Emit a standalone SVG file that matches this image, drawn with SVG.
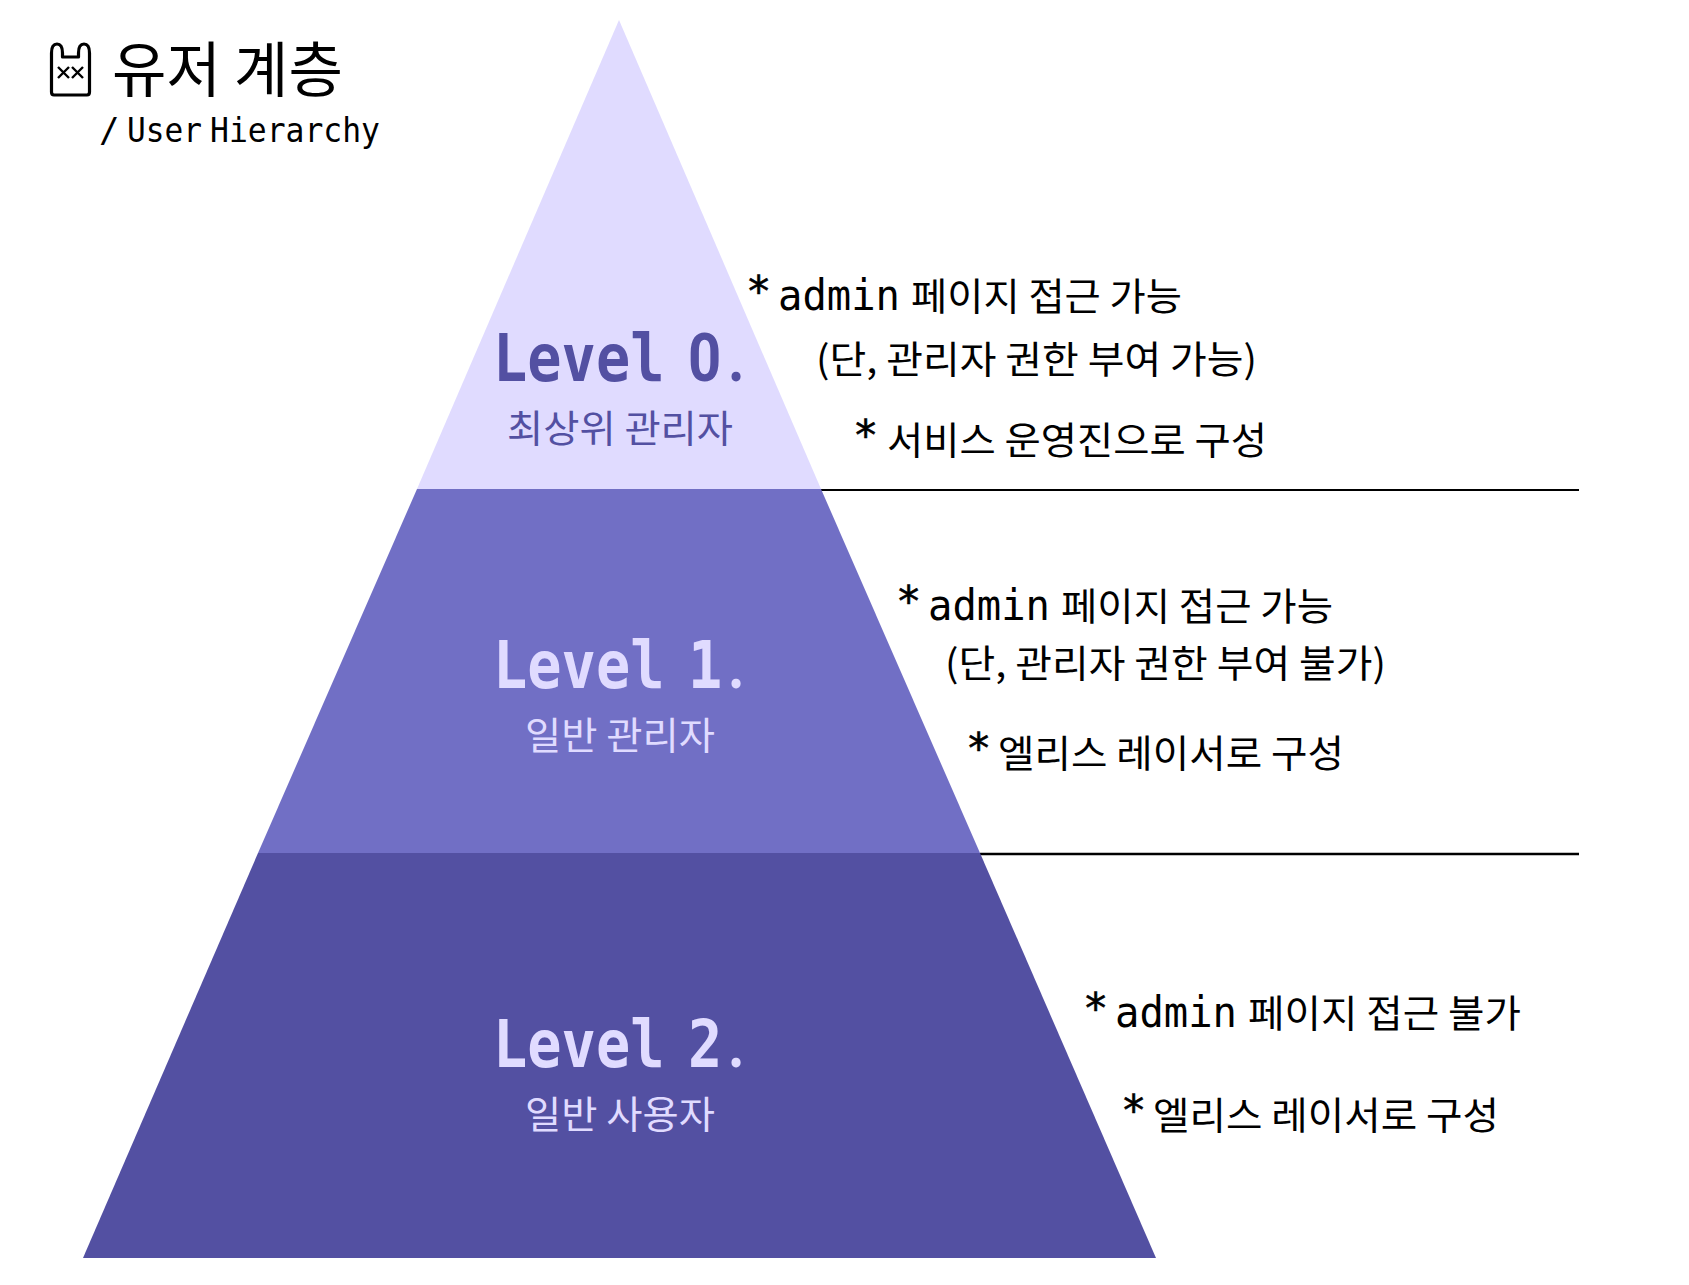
<svg xmlns="http://www.w3.org/2000/svg" width="1689" height="1285" viewBox="0 0 1689 1285">
<style>
text{font-family:"DejaVu Sans Mono","Noto Sans CJK KR",monospace}
.k{font-family:"Noto Sans CJK KR","Noto Sans",sans-serif}
.note{font-size:38px;fill:#000}
.ad{font-size:43px}
.st{font-size:42px;stroke:#000;stroke-width:.6px}
.lv{font-size:57px;font-weight:700}
.dg{font-family:"Roboto",sans-serif}
.sub{font-size:38px;text-anchor:middle;font-family:"Noto Sans CJK KR",sans-serif}
</style>
<rect width="1689" height="1285" fill="#fff"/>
<g id="title">
<path d="M51.500 53Q51.500 44 57 44Q62.500 44 62.500 53V57H78.500V53Q78.500 44 84 44Q89.500 44 89.500 53V92Q89.500 95 87 95H54Q51.500 95 51.500 92Z" fill="none" stroke="#000" stroke-width="3.200" stroke-linejoin="round"/>
<path d="M58 67L69 78M69 67L58 78M72 67L83 78M83 67L72 78" stroke="#000" stroke-width="2.400" fill="none"/>
<text class="k" x="112" y="92" font-size="60" textLength="231" lengthAdjust="spacingAndGlyphs">유저 계층</text>
<text x="99" y="142" font-size="34"><tspan>/</tspan><tspan x="127" textLength="75" lengthAdjust="spacingAndGlyphs">User</tspan><tspan x="210" textLength="170" lengthAdjust="spacingAndGlyphs">Hierarchy</tspan></text>
</g>
<g id="connectors">
<line x1="821" y1="490" x2="1579" y2="490" stroke="#000" stroke-width="2"/>
<line x1="980" y1="854" x2="1579" y2="854" stroke="#000" stroke-width="2.500"/>
</g>
<g id="level0">
<path d="M619 20L821 489H417Z" fill="#e0dbff"/>
<text class="lv" transform="translate(493 381) scale(1 1.158)" fill="#5350a2"><tspan x="0">Level</tspan><tspan class="dg" x="195" font-size="58">0</tspan><tspan class="dg" x="235">.</tspan></text>
<text class="sub" x="620" y="442" fill="#5350a2" textLength="226" lengthAdjust="spacingAndGlyphs">최상위 관리자</text>
<text class="note" y="310"><tspan class="st" x="746" y="306">*</tspan><tspan class="ad" x="778" y="310" textLength="122" lengthAdjust="spacingAndGlyphs">admin</tspan><tspan class="k" x="911" textLength="271" lengthAdjust="spacingAndGlyphs">페이지 접근 가능</tspan></text>
<text class="note k" x="816" y="373" textLength="441" lengthAdjust="spacingAndGlyphs">(단, 관리자 권한 부여 가능)</text>
<text class="note" y="454"><tspan class="st" x="853" y="450">*</tspan><tspan class="k" x="887" y="454" textLength="380" lengthAdjust="spacingAndGlyphs">서비스 운영진으로 구성</tspan></text>
</g>
<g id="level1">
<path d="M417 489H821L980 853H258Z" fill="#716fc5"/>
<text class="lv" transform="translate(493 688) scale(1 1.158)" fill="#e0dbff"><tspan x="0">Level</tspan><tspan x="195">1</tspan><tspan class="dg" x="235">.</tspan></text>
<text class="sub" x="620" y="749" fill="#e0dbff" textLength="190" lengthAdjust="spacingAndGlyphs">일반 관리자</text>
<text class="note" y="620"><tspan class="st" x="896" y="616">*</tspan><tspan class="ad" x="928" y="620" textLength="122" lengthAdjust="spacingAndGlyphs">admin</tspan><tspan class="k" x="1061" textLength="272" lengthAdjust="spacingAndGlyphs">페이지 접근 가능</tspan></text>
<text class="note k" x="945" y="677" textLength="441" lengthAdjust="spacingAndGlyphs">(단, 관리자 권한 부여 불가)</text>
<text class="note" y="767"><tspan class="st" x="966" y="763">*</tspan><tspan class="k" x="998" y="767" textLength="346" lengthAdjust="spacingAndGlyphs">엘리스 레이서로 구성</tspan></text>
</g>
<g id="level2">
<path d="M258 853H980L1156 1258H83Z" fill="#5350a2"/>
<text class="lv" transform="translate(493 1067) scale(1 1.158)" fill="#e0dbff"><tspan x="0">Level</tspan><tspan x="195">2</tspan><tspan class="dg" x="235">.</tspan></text>
<text class="sub" x="620" y="1128" fill="#e0dbff" textLength="190" lengthAdjust="spacingAndGlyphs">일반 사용자</text>
<text class="note" y="1027"><tspan class="st" x="1083" y="1023">*</tspan><tspan class="ad" x="1115" y="1027" textLength="122" lengthAdjust="spacingAndGlyphs">admin</tspan><tspan class="k" x="1248" textLength="273" lengthAdjust="spacingAndGlyphs">페이지 접근 불가</tspan></text>
<text class="note" y="1129"><tspan class="st" x="1121" y="1125">*</tspan><tspan class="k" x="1153" y="1129" textLength="346" lengthAdjust="spacingAndGlyphs">엘리스 레이서로 구성</tspan></text>
</g>
</svg>
